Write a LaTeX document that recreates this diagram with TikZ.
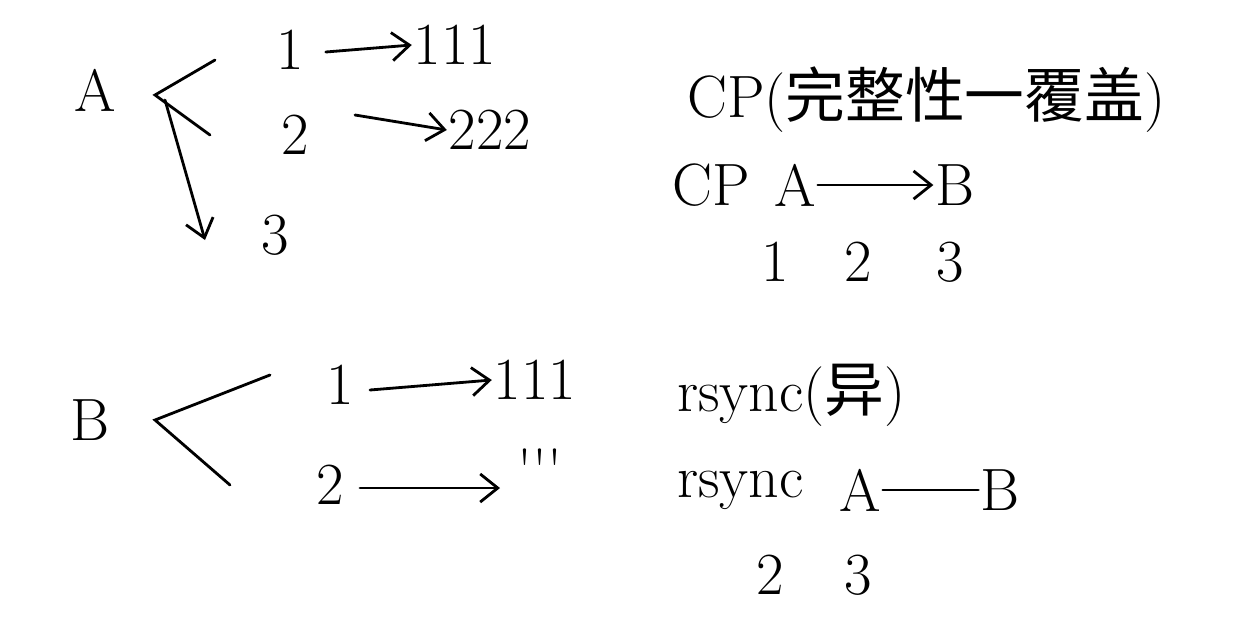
\documentclass[tikz,border=0pt]{standalone}
\usepackage{fontspec}
\newfontfamily\cjk{Noto Sans CJK SC}
\begin{document}
\begin{tikzpicture}[x=0.02cm,y=-0.02cm,
  t/.style={font=\fontsize{34}{38}\selectfont,inner sep=1pt},
  ln/.style={line width=1.6pt,line cap=round},
  ar/.style={ln,->,>={Straight Barb[length=10pt,width=16pt]}}]
\usetikzlibrary{arrows.meta}
\useasboundingbox (0,0) rectangle (1260,619);
% A
\node[t] (A) at (95,90) {A};
\coordinate (a0) at (155,95);
\coordinate (a1) at (215,60);
\coordinate (a2) at (210,135);
\coordinate (a3) at (205,240);
\draw[ln] (a1) -- (a0) -- (a2);
\draw[ar] (165,100) -- (a3);
\node[t] (n1) at (290,50) {1};
\node[t] (n111) at (455,45) {111};
\draw[ar] (n1.east)+(20,2) -- (n111.west);
\node[t] (n2) at (295,135) {2};
\node[t] (n222) at (490,130) {222};
\draw[ar] (355,115) -- (n222.west);
\node[t] (n3) at (275,235) {3};
% B
\node[t] (B) at (90,420) {B};
\coordinate (b0) at (155,420);
\coordinate (b1) at (270,375);
\coordinate (b2) at (230,485);
\draw[ln] (b1) -- (b0) -- (b2);
\node[t] (m1) at (340,385) {1};
\node[t] (m111) at (535,380) {111};
\draw[ar] (370,390) -- (m111.west);
\node[t] (m2) at (330,485) {2};
\node[t] (mdots) at (540,470) {\textquotesingle\textquotesingle\textquotesingle};
\draw[ar] (360,488) -- (500,488);
% right
\node[t,anchor=west] (cp) at (685,100) {CP({\cjk 完整性一覆盖})};
\node[t,anchor=west] (cp2) at (670,185) {CP};
\node[t] (cA) at (795,185) {A};
\node[t] (cB) at (955,185) {B};
\draw[ar] (cA.east) -- (cB.west);
\node[t] (c1) at (775,262) {1};
\node[t] (c2) at (858,262) {2};
\node[t] (c3) at (950,262) {3};
\node[t,anchor=west] (rs) at (675,395) {rsync({\cjk 异})};
\node[t,anchor=west] (rs2) at (675,490) {rsync};
\node[t] (rA) at (860,490) {A};
\node[t] (rB) at (1000,490) {B};
\draw[ln] (rA.east) -- (rB.west);
\node[t] (r2) at (770,575) {2};
\node[t] (r3) at (858,575) {3};
\end{tikzpicture}
\end{document}
